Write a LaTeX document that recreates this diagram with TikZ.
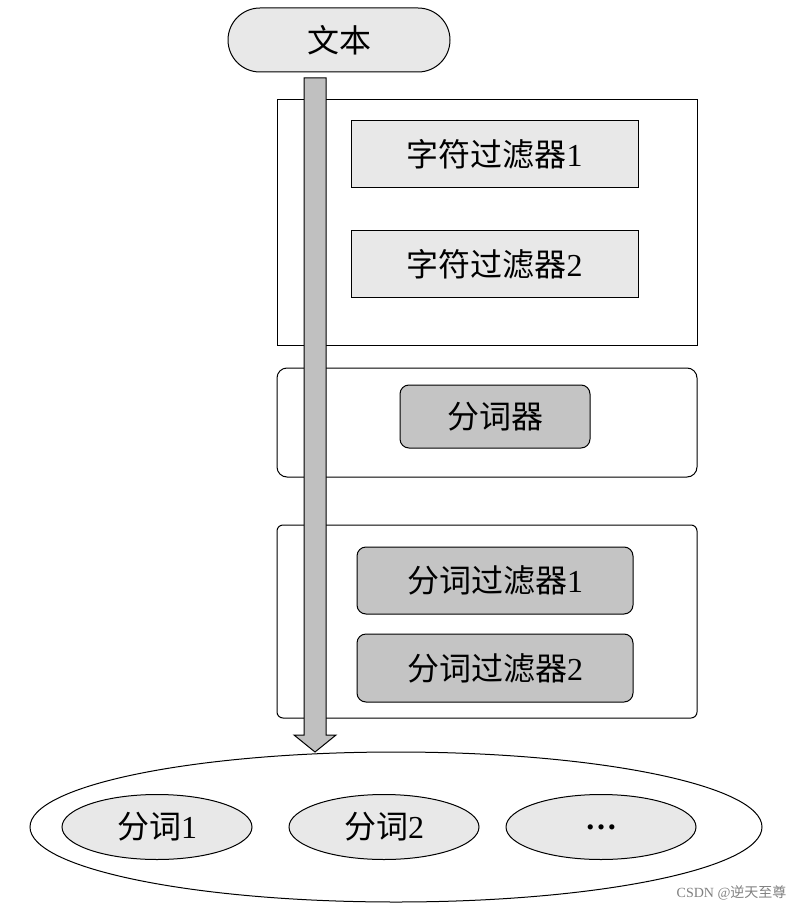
\documentclass[tikz,border=0pt]{standalone}
\usepackage{fontspec}
\setmainfont{Liberation Serif}
\newfontfamily\cjk{Noto Sans CJK SC}
\usetikzlibrary{shapes.geometric}
\definecolor{lg}{HTML}{E8E8E8}
\definecolor{mg}{HTML}{C4C4C4}
\definecolor{ag}{HTML}{C0C0C0}
\tikzset{
  lbl/.style={font=\fontsize{32}{34}\selectfont},
  grp/.style={draw=black, line width=1pt, fill=white},
  sq/.style={draw=black, line width=1pt, fill=lg, minimum width=287pt, minimum height=67pt, lbl},
  rd/.style={draw=black, line width=1pt, fill=mg, rounded corners=9pt, lbl},
  el/.style={draw=black, line width=1pt, ellipse, fill=lg, minimum width=190pt, minimum height=65pt, lbl}
}
\begin{document}
\begin{tikzpicture}[x=1pt,y=-1pt]
\useasboundingbox (0,0) rectangle (796,912);
\node[draw, line width=1pt, fill=lg, rounded corners=32pt, minimum width=222pt, minimum height=64pt, lbl] (text) at (339,40) {\cjk 文本};
\draw[grp] (277,100) rectangle (697,345);
\node[sq] (c1) at (494.5,154.5) {{\cjk 字符过滤器}1};
\node[sq] (c2) at (494.5,264) {{\cjk 字符过滤器}2};
\draw[grp, rounded corners=10pt] (277,368) rectangle (697,477);
\node[rd, minimum width=190pt, minimum height=63pt] (tok) at (495,416.5) {\cjk 分词器};
\draw[grp, rounded corners=6pt] (277,525) rectangle (697,718);
\node[rd, minimum width=276pt, minimum height=67pt] (f1) at (495,580.5) {{\cjk 分词过滤器}1};
\node[rd, minimum width=276pt, minimum height=68pt] (f2) at (495,668) {{\cjk 分词过滤器}2};
\draw[line width=1pt, fill=ag] (304,78) -- (326,78) -- (326,735) -- (336,735) -- (315,752) -- (294,735) -- (304,735) -- cycle;
\node[draw, line width=1pt, ellipse, fill=white, minimum width=732pt, minimum height=150pt] (out) at (396,827) {};
\node[el] (t1) at (157,827) {{\cjk 分词}1};
\node[el] (t2) at (384,827) {{\cjk 分词}2};
\node[el] (t3) at (601,827) {\textbf{…}};
\node[text=gray, font=\fontsize{14}{16}\selectfont, anchor=east] (wm) at (790,893) {CSDN @{\cjk 逆天至尊}};
\end{tikzpicture}
\end{document}
